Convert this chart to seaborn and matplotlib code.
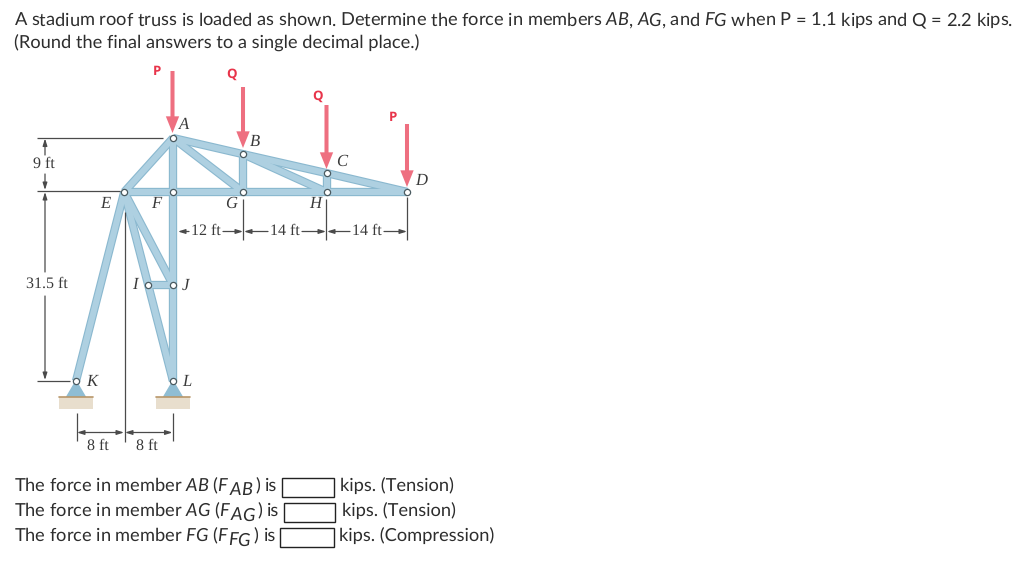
import matplotlib
matplotlib.use('Agg')
import matplotlib.pyplot as plt
from matplotlib.patches import Polygon, Rectangle
import pandas as pd
import seaborn as sns

# truss geometry in feet, origin at support L
node_names = ['A', 'B', 'C', 'D', 'E', 'F', 'G', 'H', 'I', 'J', 'K', 'L']
node_x = [0, 11.8, 25.8, 39.4, -8.2, 0, 11.8, 25.8, -4.2, 0, -16.3, 0]
node_y = [40.5, 37.8, 34.65, 31.5, 31.5, 31.5, 31.5, 31.5, 16, 16, 0, 0]

members = ['AB', 'BC', 'CD', 'AE', 'AL', 'AG', 'BG', 'BH', 'CH', 'ED', 'EK', 'EL', 'EJ', 'IJ']

load_nodes = ['A', 'B', 'C', 'D']
load_names = ['P', 'Q', 'Q', 'P']

dim_labels = ['12 ft', '14 ft', '14 ft']
answers = [('AB', 'Tension'), ('AG', 'Tension'), ('FG', 'Compression')]

sns.set_theme(style='white')
plt.rcParams['font.family'] = ['Lato', 'DejaVu Sans']
plt.rcParams['mathtext.fontset'] = 'custom'
plt.rcParams['mathtext.rm'] = 'Lato'
plt.rcParams['mathtext.it'] = 'Lato:italic'
plt.rcParams['text.hinting'] = 'none'

TEXT = '#2d2d2d'
DIM = '#4a4a4a'
RED = '#e8344a'
ARROW = '#ee6f80'
SERIF = 'Liberation Serif'
BODY = 13.15

fig = plt.figure(figsize=(10.24, 5.64), dpi=100)

# ========== TRUSS (feet) ==========
ax = fig.add_axes([0, 0, 1, 1])
ax.set_xlim(-173 / 5.95, (1024 - 173) / 5.95)
ax.set_ylim(-183 / 6.0, 381 / 6.0)
ax.axis('off')

nodes = pd.DataFrame({'name': node_names, 'x': node_x, 'y': node_y}).set_index('name')

rows = []
for m in members:
    for n in m:
        rows.append({'member': m, 'x': nodes.loc[n, 'x'], 'y': nodes.loc[n, 'y']})
bars = pd.DataFrame(rows)

sns.lineplot(data=bars, x='x', y='y', units='member', estimator=None, sort=False,
             color='#8ab8cf', linewidth=6.0, solid_capstyle='butt', ax=ax, legend=False)
sns.lineplot(data=bars, x='x', y='y', units='member', estimator=None, sort=False,
             color='#aed0e1', linewidth=4.4, solid_capstyle='butt', ax=ax, legend=False)

# supports
for n in ['K', 'L']:
    x0, y0 = nodes.loc[n, 'x'], nodes.loc[n, 'y']
    ax.add_patch(Polygon([(x0, y0), (x0 - 1.6, y0 - 2.7), (x0 + 1.6, y0 - 2.7)],
                         color='#8fbdd3', zorder=3))
    ax.add_patch(Rectangle((x0 - 2.9, y0 - 4.7), 5.8, 2.0, color='#e8decd', lw=0, zorder=3))
    ax.plot([x0 - 2.9, x0 + 2.9], [y0 - 2.7, y0 - 2.7], color='#b9976a', lw=1.2, zorder=4)

sns.scatterplot(data=nodes, x='x', y='y', s=20, color='white', edgecolor='#4a5a60',
                linewidth=0.9, zorder=5, ax=ax, legend=False)
ax.set_xlabel('')
ax.set_ylabel('')

# ========== OVERLAY (pixels): dimensions, loads, text ==========
ov = fig.add_axes([0, 0, 1, 1], zorder=3)
ov.set_xlim(0, 1024)
ov.set_ylim(564, 0)
ov.axis('off')
ov.patch.set_alpha(0)


def line(x0, y0, x1, y1, lw=0.9, color=DIM):
    ov.plot([x0, x1], [y0, y1], color=color, lw=lw, solid_capstyle='butt')


def dim_arrow(x0, y0, x1, y1):
    # line with a small head at x1, y1
    ov.annotate('', xy=(x1, y1), xytext=(x0, y0),
                arrowprops=dict(arrowstyle='-|>,head_length=0.35,head_width=0.11', color=DIM,
                                lw=0.9, shrinkA=0, shrinkB=0))


def serif(x, y, s, size=11.5, italic=False):
    ov.text(x, y, s, family=SERIF, fontsize=size, style='italic' if italic else 'normal',
            color='#3a3a3a', ha='center', va='center')


# height dimensions
line(37, 137.5, 163, 137.5)
line(37, 191, 120, 191)
line(37, 381, 70, 381)
dim_arrow(45, 155, 45, 138.5)
dim_arrow(45, 174, 45, 190)
dim_arrow(45, 272, 45, 192)
dim_arrow(45, 296, 45, 380)
serif(44, 164, '9 ft')
serif(47, 284, '31.5 ft')

# horizontal dimensions along the roof
for x, top in zip([243, 326, 407], [199, 199, 197]):
    line(x, top, x, 240)
dim_y = 231.5
for x0, x1, label, lx in zip([178, 244, 327], [243, 326, 407], dim_labels, [206, 285, 367]):
    dim_arrow(lx - 17, dim_y, x0, dim_y)
    dim_arrow(lx + 17, dim_y, x1, dim_y)
    serif(lx, dim_y - 0.5, label)

# base dimensions
line(124.5, 212, 124.5, 441.5)
line(76.5, 413, 76.5, 441)
line(173, 413, 173, 441)
dim_arrow(100, 432.5, 77, 432.5)
dim_arrow(100, 432.5, 124, 432.5)
dim_arrow(149, 432.5, 125, 432.5)
dim_arrow(149, 432.5, 172.5, 432.5)
serif(98, 446, '8 ft')
serif(147, 446, '8 ft')

# node letters
letter_pos = {'A': (184, 125), 'B': (255, 142), 'C': (342, 162), 'D': (421, 181),
              'E': (105, 204), 'F': (156, 204), 'G': (231, 204), 'H': (315, 204),
              'I': (135, 285), 'J': (185, 286), 'K': (92, 382), 'L': (187, 382)}
for n, (x, y) in letter_pos.items():
    serif(x, y, n, size=12, italic=True)

# loads
arrow_px = {'A': (172.5, 71, 133), 'B': (243, 87, 148), 'C': (326.5, 105, 169), 'D': (407, 124, 187)}
label_px = [(157, 72), (232, 74), (318, 96), (393, 118)]
for n, name, (lx, ly) in zip(load_nodes, load_names, label_px):
    x, y0, y1 = arrow_px[n]
    ov.annotate('', xy=(x, y1), xytext=(x, y0),
                arrowprops=dict(width=2.9, headwidth=9.6, headlength=12, color=ARROW,
                                shrink=0, lw=0))
    ov.text(lx, ly, name, color=RED, fontsize=9.5, fontweight='bold', family='Open Sans',
            ha='center', va='center')

# question text
ov.text(14, 21, 'A stadium roof truss is loaded as shown. Determine the force in members '
        '$AB$, $AG$, and $FG$ when P = 1.1 kips and Q = 2.2 kips.',
        fontsize=BODY, color=TEXT, ha='left', va='center')
ov.text(14, 43, '(Round the final answers to a single decimal place.)',
        fontsize=BODY, color=TEXT, ha='left', va='center')

box_left = [282, 284, 280]
box_right = [334, 335, 334]
text_y = [486, 511, 536]
tail_x = [340.5, 341.5, 339]
sub_x = [229, 230, 228]
paren_x = [255, 257, 253]
is_x = [265, 267, 264]
for i, (m, kind) in enumerate(answers):
    y = text_y[i]
    ov.text(14, y, f'The force in member ${m}$ ($F$', fontsize=BODY, color=TEXT, ha='left', va='center')
    ov.text(sub_x[i], y + 4, f'${m}$', fontsize=BODY, color=TEXT, ha='left', va='center')
    ov.text(paren_x[i], y, ')', fontsize=BODY, color=TEXT, ha='left', va='center')
    ov.text(is_x[i], y, 'is', fontsize=BODY, color=TEXT, ha='left', va='center')
    ov.add_patch(Rectangle((box_left[i], y - 8), box_right[i] - box_left[i], 18.5,
                           fill=False, edgecolor='#222222', lw=1.0))
    ov.text(tail_x[i], y, f'kips. ({kind})', fontsize=BODY, color=TEXT, ha='left', va='center')

fig.savefig('out.png', dpi=100)
